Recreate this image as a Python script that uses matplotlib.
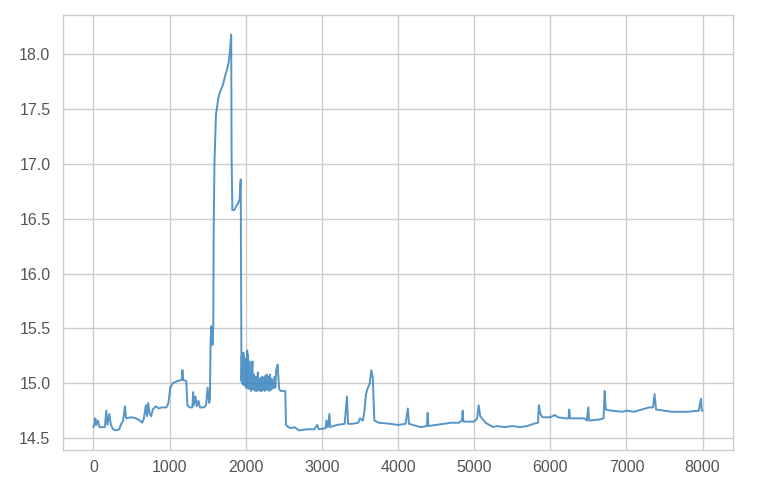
import matplotlib
matplotlib.use("Agg")
import matplotlib.pyplot as plt

# sample index vs reading
idx = [
    0, 15, 25, 40, 60, 80, 150, 170, 185, 210, 230, 260, 300, 340, 360, 390,
    415, 430, 500, 560, 610, 640, 660, 690, 705, 720, 740, 760, 780, 820, 860,
    900, 960, 985, 1010, 1040, 1100, 1160, 1170, 1180, 1220, 1235, 1260, 1300,
    1310, 1320, 1340, 1360, 1380, 1400, 1450, 1480, 1500, 1520, 1530, 1540,
    1550, 1565, 1575, 1580, 1590, 1610, 1640, 1660, 1700, 1740, 1750, 1775,
    1790, 1810, 1815, 1825, 1850, 1880, 1900, 1920, 1935, 1945,
    1950, 1955, 1960, 1965, 1970, 1975, 1980, 1985, 1990, 1995, 2000, 2005,
    2010, 2015, 2020, 2025, 2030, 2035, 2040, 2045, 2050, 2055, 2060, 2065,
    2070, 2080, 2090, 2095, 2100, 2110, 2120, 2125, 2130, 2140, 2150, 2160,
    2170, 2180, 2190, 2200, 2210, 2220, 2230, 2240, 2250, 2260, 2270, 2280,
    2290, 2300, 2310, 2320, 2330, 2340, 2350, 2360, 2370, 2380, 2390, 2400,
    2410, 2420, 2430, 2440, 2460, 2520, 2530, 2560, 2600, 2640, 2700,
    2800, 2900, 2940, 2960, 3050, 3060, 3080, 3100, 3110, 3200, 3300, 3330,
    3345, 3400, 3480, 3500, 3540, 3560, 3580, 3600, 3630, 3650, 3670, 3690,
    3750, 3900, 4000, 4100, 4130, 4145, 4300, 4380, 4390, 4400, 4500, 4600,
    4700, 4800, 4840, 4850, 4860, 5000, 5040, 5060, 5080, 5150, 5250, 5300,
    5400, 5500, 5600, 5700, 5780, 5840, 5850, 5870, 5900, 6000, 6060, 6100,
    6200, 6240, 6250, 6260, 6450, 6480, 6500, 6510, 6650, 6700, 6715, 6730,
    6800, 6950, 7000, 7100, 7200, 7300, 7350, 7370, 7390, 7500, 7600, 7800,
    7950, 7980, 7990, 8000,
]
reading = [
    14.60, 14.62, 14.68, 14.62, 14.66, 14.60, 14.60, 14.75, 14.62, 14.72, 14.62,
    14.58, 14.57, 14.58, 14.62, 14.66, 14.79, 14.68, 14.69, 14.68, 14.66, 14.64,
    14.67, 14.80, 14.70, 14.82, 14.72, 14.70, 14.76, 14.79, 14.77, 14.78, 14.78,
    14.82, 14.96, 15.00, 15.02, 15.03, 15.12, 15.03, 15.02, 14.80, 14.78, 14.78,
    14.92, 14.80, 14.88, 14.79, 14.84, 14.78, 14.78, 14.80, 14.96, 14.82, 14.85,
    15.40, 15.52, 15.35, 15.55, 16.40, 17.00, 17.45, 17.60, 17.65, 17.72, 17.83,
    17.85, 17.92, 18.00, 18.18, 17.10, 16.58, 16.58, 16.62, 16.64, 16.68, 16.86,
    15.02,
    15.25, 15.00, 15.22, 14.99, 15.28, 15.00, 15.24, 14.98, 15.20, 15.00, 15.22,
    14.96, 15.18, 14.97, 15.30, 14.98, 15.26, 14.95, 15.15, 14.96, 15.20, 14.95,
    15.10, 14.96, 14.93, 15.12, 15.20, 14.95, 14.94, 15.08, 15.05, 14.94, 14.93,
    15.06, 14.93, 15.10, 14.94, 15.04, 14.93, 15.05, 14.93, 15.06, 14.94, 15.05,
    14.93, 15.07, 14.94, 15.08, 14.94, 15.06, 14.93, 15.08, 14.94, 15.04, 14.95,
    15.00, 14.96, 15.06, 14.96, 15.12, 15.14, 15.17, 15.05, 14.95, 14.93, 14.93,
    14.62, 14.60, 14.59, 14.60, 14.57, 14.58, 14.58, 14.62, 14.58, 14.59, 14.66,
    14.60, 14.72, 14.60, 14.62, 14.63, 14.88, 14.63, 14.63, 14.64, 14.68, 14.66,
    14.75, 14.90, 14.95, 15.00, 15.12, 15.05, 14.66, 14.64, 14.63, 14.62, 14.63,
    14.77, 14.63, 14.60, 14.61, 14.73, 14.61, 14.62, 14.63, 14.64, 14.64, 14.66,
    14.75, 14.65, 14.65, 14.68, 14.80, 14.70, 14.64, 14.60, 14.61, 14.60, 14.61,
    14.60, 14.61, 14.63, 14.64, 14.80, 14.72, 14.69, 14.69, 14.71, 14.69, 14.68,
    14.68, 14.76, 14.68, 14.68, 14.66, 14.78, 14.66, 14.67, 14.68, 14.93, 14.76,
    14.75, 14.74, 14.75, 14.74, 14.76, 14.78, 14.78, 14.90, 14.76, 14.75, 14.74,
    14.74, 14.75, 14.86, 14.75, 14.75,
]

plt.style.use("seaborn-v0_8-whitegrid")

fig = plt.figure(figsize=(7.58, 4.98), dpi=100)
ax = fig.add_axes([0.083, 0.096, 0.884, 0.874])

ax.plot(idx, reading, color="#2b7bba", alpha=0.8, linewidth=1.4)

ax.set_xticks(range(0, 8001, 1000))
ax.set_yticks([14.5, 15.0, 15.5, 16.0, 16.5, 17.0, 17.5, 18.0])
ax.tick_params(axis="both", labelsize=11.5, labelcolor="#555555")
ax.tick_params(axis="x", pad=7)
ax.tick_params(axis="y", pad=9)
ax.grid(True, color="#cccccc", linewidth=1)
for s in ax.spines.values():
    s.set_color("#cccccc")
    s.set_linewidth(1)

fig.savefig("out.png", dpi=100)
